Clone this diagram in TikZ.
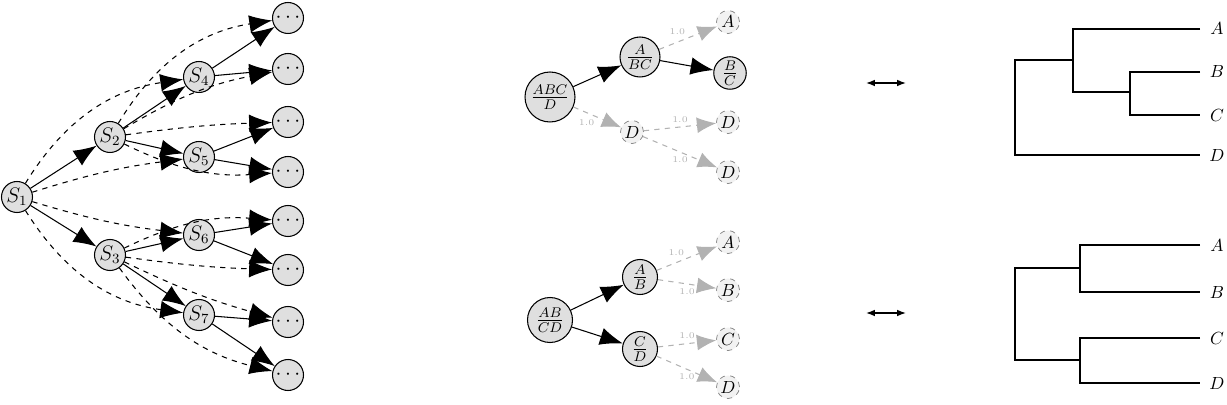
\documentclass[tikz,border=0pt]{standalone}
\usetikzlibrary{arrows.meta}
\begin{document}
\begin{tikzpicture}[x=0.02cm,y=-0.02cm,
 st/.style={circle,draw,fill=gray!25,inner sep=0pt,minimum size=30\pgflinewidth,line width=0.6pt},
 sn/.style={circle,draw,fill=gray!25,inner sep=0pt,minimum size=0.62cm,line width=0.6pt,font=\large},
 gn/.style={circle,draw=gray,dashed,fill=gray!10,inner sep=0pt,minimum size=0.46cm,font=\normalsize},
 ar/.style={-{Latex[length=13pt,width=10pt]},line width=0.6pt},
 da/.style={ar,dashed},
 ga/.style={-{Latex[length=11pt,width=9pt]},dashed,draw=gray!60,line width=0.6pt},
 lb/.style={font=\tiny,text=gray!60},
 tr/.style={line width=1.1pt}]
\useasboundingbox (0,0) rectangle (1227,405);
% left tree
\node[sn] (s1) at (17,197) {$S_1$};
\node[sn] (s2) at (110,137) {$S_2$};
\node[sn] (s3) at (110,255) {$S_3$};
\node[sn] (s4) at (199,77) {$S_4$};
\node[sn] (s5) at (199,157) {$S_5$};
\node[sn] (s6) at (199,235) {$S_6$};
\node[sn] (s7) at (199,315) {$S_7$};
\foreach \i/\y in {1/18,2/69,3/122,4/172,5/221,6/270,7/322,8/375}
  \node[sn] (d\i) at (288,\y) {$\cdots$};
\draw[ar] (s1)--(s2); \draw[ar] (s1)--(s3);
\draw[ar] (s2)--(s4); \draw[ar] (s2)--(s5);
\draw[ar] (s3)--(s6); \draw[ar] (s3)--(s7);
\draw[ar] (s4)--(d1); \draw[ar] (s4)--(d2);
\draw[ar] (s5)--(d3); \draw[ar] (s5)--(d4);
\draw[ar] (s6)--(d5); \draw[ar] (s6)--(d6);
\draw[ar] (s7)--(d7); \draw[ar] (s7)--(d8);
\draw[da] (s1) to[bend left=25] (s4);
\draw[da] (s1) to[bend left=5] (s5);
\draw[da] (s1) to[bend left=-5] (s6);
\draw[da] (s1) to[bend right=25] (s7);
\draw[da] (s2) to[bend left=25] (d1);
\draw[da] (s2) to[bend left=10] (d2);
\draw[da] (s2) to[bend left=3] (d3);
\draw[da] (s2) to[bend right=15] (d4);
\draw[da] (s3) to[bend left=15] (d5);
\draw[da] (s3) to[bend right=3] (d6);
\draw[da] (s3) to[bend right=5] (d7);
\draw[da] (s3) to[bend right=20] (d8);
% middle top
\node[sn,minimum size=1.0cm] (abcd) at (550,97) {$\frac{ABC}{D}$};
\node[sn,minimum size=0.8cm] (abc) at (640,57) {$\frac{A}{BC}$};
\node[sn,minimum size=0.65cm] (bc) at (730,73) {$\frac{B}{C}$};
\node[gn] (dm) at (632,132) {$D$};
\node[gn] (ta) at (728,22) {$A$};
\node[gn] (td1) at (728,122) {$D$};
\node[gn] (td2) at (728,172) {$D$};
\draw[ar] (abcd)--(abc); \draw[ar] (abc)--(bc);
\draw[ga] (abc)--node[lb,above left=-2pt]{1.0}(ta);
\draw[ga] (abcd)--node[lb,below left=-2pt]{1.0}(dm);
\draw[ga] (dm)--node[lb,above=-1pt]{1.0}(td1);
\draw[ga] (dm)--node[lb,below=-1pt]{1.0}(td2);
% middle bottom
\node[sn,minimum size=0.9cm] (abcd2) at (550,320) {$\frac{AB}{CD}$};
\node[sn,minimum size=0.7cm] (ab) at (640,277) {$\frac{A}{B}$};
\node[sn,minimum size=0.7cm] (cd) at (640,349) {$\frac{C}{D}$};
\node[gn] (ba) at (728,242) {$A$};
\node[gn] (bb) at (728,290) {$B$};
\node[gn] (bcc) at (728,339) {$C$};
\node[gn] (bd) at (728,387) {$D$};
\draw[ar] (abcd2)--(ab); \draw[ar] (abcd2)--(cd);
\draw[ga] (ab)--node[lb,above left=-2pt]{1.0}(ba);
\draw[ga] (ab)--node[lb,below=-1pt]{1.0}(bb);
\draw[ga] (cd)--node[lb,above=-1pt]{1.0}(bcc);
\draw[ga] (cd)--node[lb,below=-1pt]{1.0}(bd);
% arrows
\node (l1) at (870,83) {}; \node (r1) at (900,83) {};
\draw[{Latex[length=5pt]}-{Latex[length=5pt]},line width=0.8pt] (866,83)--(906,83);
\draw[{Latex[length=5pt]}-{Latex[length=5pt]},line width=0.8pt] (866,313)--(906,313);
% top dendrogram
\node (la) at (1217,29) {$A$}; \node (lbb) at (1217,72) {$B$};
\node (lc) at (1217,115) {$C$}; \node (ld) at (1217,155) {$D$};
\draw[tr] (1200,29)-|(1073,92)--(1130,92);
\draw[tr] (1200,72)-|(1130,115)--(1200,115);
\draw[tr] (1073,60)-|(1015,155)--(1200,155);
% bottom dendrogram
\node (la2) at (1217,245) {$A$}; \node (lb2) at (1217,292) {$B$};
\node (lc2) at (1217,338) {$C$}; \node (ld2) at (1217,383) {$D$};
\draw[tr] (1200,245)-|(1080,292)--(1200,292);
\draw[tr] (1200,338)-|(1080,383)--(1200,383);
\draw[tr] (1080,268)-|(1015,360)--(1080,360);
\end{tikzpicture}
\end{document}
